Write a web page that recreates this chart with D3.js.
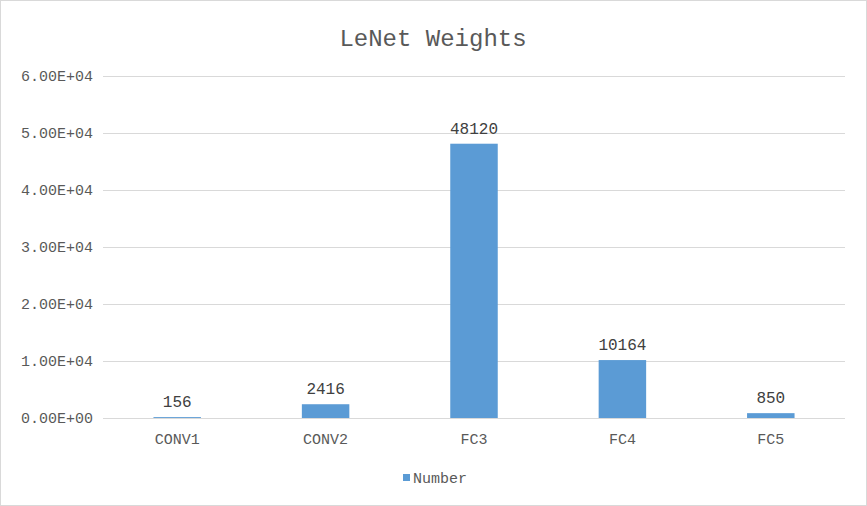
<!DOCTYPE html>
<html><head><meta charset="utf-8">
<script src="https://cdn.jsdelivr.net/npm/d3@7"></script>
<style>body{margin:0;background:#fff}</style>
</head><body>
<script>
const categories = ["CONV1","CONV2","FC3","FC4","FC5"];
const values = [156,2416,48120,10164,850];
const tickValues = [0,10000,20000,30000,40000,50000,60000];
const tickLabels = ["0.00E+00","1.00E+04","2.00E+04","3.00E+04","4.00E+04","5.00E+04","6.00E+04"];
const seriesName = "Number";

const W=867,H=506, font="'Liberation Mono','DejaVu Sans Mono',monospace", col="#595959";
const svg=d3.select("body").append("svg").attr("width",W).attr("height",H);
svg.append("rect").attr("x",0.5).attr("y",0.5).attr("width",W-1).attr("height",H-1).attr("fill","#fff").attr("stroke","#d9d9d9");
const x=d3.scaleBand().domain(categories).range([103,845]).paddingInner(0.68).paddingOuter(0.34);
const y=d3.scaleLinear().domain([0,60000]).range([418,76]);
svg.append("g").selectAll("line").data(tickValues).join("line")
 .attr("x1",103).attr("x2",845).attr("y1",d=>y(d)+0.5).attr("y2",d=>y(d)+0.5)
 .attr("stroke","#d9d9d9");
svg.append("g").selectAll("text").data(tickValues).join("text")
 .attr("x",93).attr("y",d=>y(d)+5).attr("text-anchor","end")
 .attr("font-family",font).attr("font-size",15).attr("fill",col)
 .text((d,i)=>tickLabels[i]);
svg.append("g").selectAll("rect").data(values).join("rect")
 .attr("x",(d,i)=>x(categories[i])).attr("width",x.bandwidth())
 .attr("y",d=>y(d)).attr("height",d=>y(0)-y(d)).attr("fill","#5B9BD5");
svg.append("g").selectAll("text").data(values).join("text")
 .attr("x",(d,i)=>x(categories[i])+x.bandwidth()/2).attr("y",d=>y(d)-10)
 .attr("text-anchor","middle").attr("font-family",font).attr("font-size",16).attr("fill","#404040")
 .text(d=>d);
svg.append("g").selectAll("text").data(categories).join("text")
 .attr("x",d=>x(d)+x.bandwidth()/2).attr("y",444)
 .attr("text-anchor","middle").attr("font-family",font).attr("font-size",15).attr("fill",col)
 .text(d=>d);
svg.append("text").attr("x",433).attr("y",46).attr("text-anchor","middle")
 .attr("font-family",font).attr("font-size",24).attr("fill",col).text("LeNet Weights");
svg.append("rect").attr("x",403).attr("y",474).attr("width",7).attr("height",7).attr("fill","#5B9BD5");
svg.append("text").attr("x",413).attr("y",483).attr("font-family",font).attr("font-size",15).attr("fill",col).text(seriesName);
</script>
</body></html>
